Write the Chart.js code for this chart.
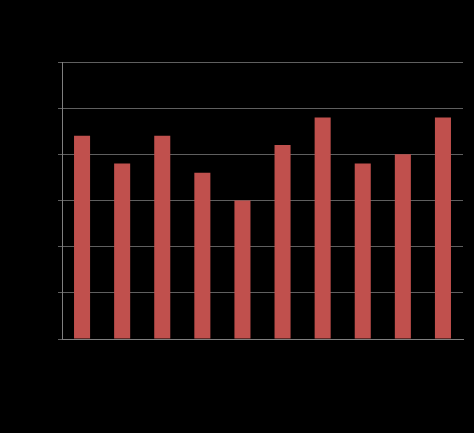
<!DOCTYPE html>
<html lang="en">
<head>
    <meta charset="UTF-8">
    <title>Bar Chart</title>
    <script src="https://cdn.jsdelivr.net/npm/chart.js@4.4.0/dist/chart.umd.min.js"></script>
    <style>
        html, body {
            margin: 0;
            padding: 0;
            background-color: #000000;
        }
        #wrap {
            width: 474px;
            height: 433px;
        }
    </style>
</head>
<body>
    <div id="wrap"><canvas id="barChart"></canvas></div>

    <script>
        // Data
        const categories = ['1', '2', '3', '4', '5', '6', '7', '8', '9', '10'];
        const seriesValues = [4.4, 3.8, 4.4, 3.6, 3.0, 4.2, 4.8, 3.8, 4.0, 4.8];
        const yTicks = [0, 1, 2, 3, 4, 5, 6];

        const ctx = document.getElementById('barChart').getContext('2d');
        new Chart(ctx, {
            type: 'bar',
            data: {
                labels: categories,
                datasets: [{
                    label: 'Series 1',
                    data: seriesValues,
                    backgroundColor: '#c0504d',
                    barPercentage: 0.4,
                    categoryPercentage: 1.0
                }]
            },
            options: {
                responsive: true,
                maintainAspectRatio: false,
                animation: false,
                layout: {
                    padding: { left: 58, right: 11, top: 62, bottom: 86 }
                },
                plugins: {
                    legend: { display: false },
                    tooltip: { enabled: false }
                },
                scales: {
                    x: {
                        grid: { display: false },
                        border: { color: '#7f7f7f', width: 1 },
                        ticks: { display: false }
                    },
                    y: {
                        min: yTicks[0],
                        max: yTicks[yTicks.length - 1],
                        ticks: { display: false, stepSize: 1 },
                        grid: {
                            color: '#5f5f5f',
                            tickLength: 4,
                            drawTicks: true
                        },
                        border: { color: '#7f7f7f', width: 1 }
                    }
                }
            }
        });
    </script>
</body>
</html>
